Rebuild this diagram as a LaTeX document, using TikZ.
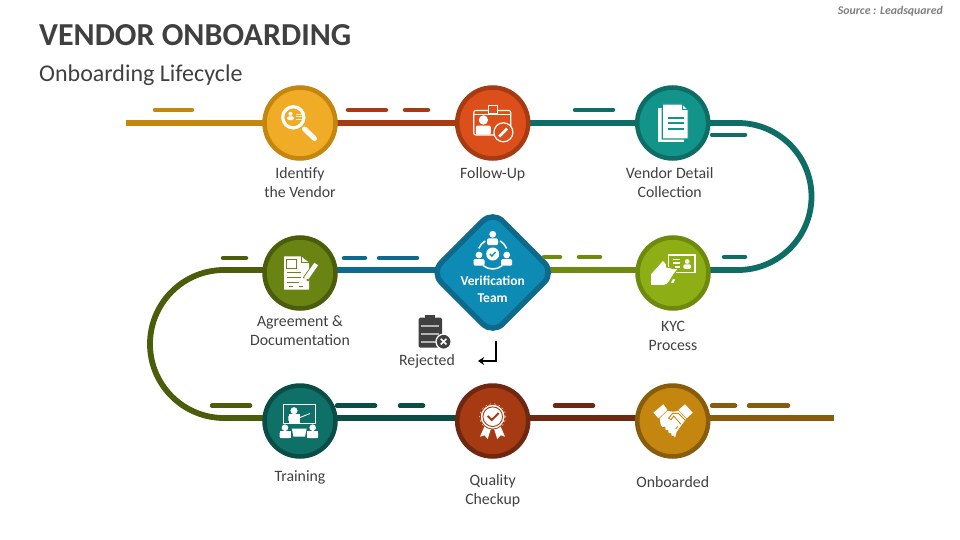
\documentclass[tikz,border=0pt]{standalone}
\usepackage{fontspec}
\setmainfont{Carlito}
\usepackage{tikz}
\usetikzlibrary{positioning, arrows.meta, shapes.geometric, backgrounds}
\usepackage{xcolor}
\definecolor{textgray}{HTML}{404040}
\definecolor{sourcegray}{HTML}{7F7F7F}
\definecolor{goldfill}{HTML}{F0AB27}
\definecolor{goldring}{HTML}{C4860F}
\definecolor{redfill}{HTML}{DC4F1A}
\definecolor{redring}{HTML}{A63A12}
\definecolor{tealfill}{HTML}{12948A}
\definecolor{tealring}{HTML}{0E6E66}
\definecolor{limefill}{HTML}{8DAE14}
\definecolor{limering}{HTML}{6E8A0C}
\definecolor{bluefill}{HTML}{0E8BB5}
\definecolor{bluering}{HTML}{0E6A8C}
\definecolor{olivefill}{HTML}{6A8414}
\definecolor{olivering}{HTML}{4B5D0A}
\definecolor{pinefill}{HTML}{0F7068}
\definecolor{pinering}{HTML}{0A4D45}
\definecolor{rustfill}{HTML}{A63A12}
\definecolor{rustring}{HTML}{6E2710}
\definecolor{ochrefill}{HTML}{C4860F}
\definecolor{ochrering}{HTML}{875C0A}

% head and shoulders of a person: x, y, half width of the body
\newcommand{\personglyph}[3]{%
  \fill ({#1},{#2}) circle[radius={0.62*#3 pt}];
  \fill[rounded corners=1.3pt] ({#1-#3},{#2+1.95*#3}) -- ({#1-#3},{#2+0.75*#3})
    -- ({#1+#3},{#2+0.75*#3}) -- ({#1+#3},{#2+1.95*#3}) -- cycle;
}

\begin{document}
\begin{tikzpicture}[
    x=1pt, y=-1pt,
    station/.style={circle, line width=4.5pt, minimum size=71pt, inner sep=0pt},
    rail/.style={line width=5.8pt},
    tick/.style={line width=4.5pt, line cap=round},
    lbl/.style={font=\fontsize{15.8}{19}\selectfont, text=textgray, align=center, inner sep=0pt}
]
\useasboundingbox (0,0) rectangle (960,540);

% Titles
\node[font=\fontsize{32}{36}\selectfont\bfseries, text=textgray, anchor=west, inner sep=0pt] (title) at (39,35.5) {VENDOR ONBOARDING};
\node[font=\fontsize{24}{28}\selectfont, text=textgray, anchor=west, inner sep=0pt] (subtitle) at (39,75.5) {Onboarding Lifecycle};
\node[font=\fontsize{11.8}{14}\selectfont\bfseries\itshape, text=sourcegray, anchor=east, inner sep=0pt] (source) at (943,11) {Source : Leadsquared};

% Stations, row by row
\node[station, draw=goldring, fill=goldfill] (identify) at (300,123) {};
\node[station, draw=redring, fill=redfill] (followup) at (492.7,123) {};
\node[station, draw=tealring, fill=tealfill] (vendor) at (672.7,123) {};
\node[station, draw=olivering, fill=olivefill] (agreement) at (300,273) {};
\node[diamond, aspect=1, rounded corners=14pt, line width=5.5pt, minimum size=125pt, inner sep=0pt, draw=bluering, fill=bluefill] (verify) at (492.7,272.5) {};
\node[station, draw=limering, fill=limefill] (kyc) at (673,273) {};
\node[station, draw=pinering, fill=pinefill] (training) at (300,421) {};
\node[station, draw=rustring, fill=rustfill] (quality) at (492.7,421) {};
\node[station, draw=ochrering, fill=ochrefill] (onboarded) at (672.7,421) {};

% Labels
\node[lbl, below=6.5pt of identify] (identifylbl) {Identify\\the Vendor};
\node[lbl, below=6.5pt of followup] (followuplbl) {Follow-Up};
\node[lbl, below=6.5pt of vendor, xshift=-3pt] (vendorlbl) {Vendor Detail\\Collection};
\node[lbl, below=4.5pt of agreement] (agreementlbl) {Agreement \&\\Documentation};
\node[lbl, below=10pt of kyc] (kyclbl) {KYC\\Process};
\node[lbl, below=11.5pt of training] (traininglbl) {Training};
\node[lbl, below=15.5pt of quality] (qualitylbl) {Quality\\Checkup};
\node[lbl, below=17.5pt of onboarded] (onboardedlbl) {Onboarded};
\node[lbl] (rejected) at (427,361) {Rejected};
\node[lbl, font=\fontsize{13.5}{17}\selectfont\bfseries, text=white] (verifylbl) at (492.7,289) {Verification\\Team};

% Free ends of the line
\coordinate (startpt) at (126,123);
\coordinate (endpt) at (834,418);

% Line segments go behind the stations
\begin{pgfonlayer}{background}
\draw[rail, goldring] (startpt) -- (identify.center);
\draw[rail, redring] (identify.center) -- (followup.center);
\draw[rail, tealring] (followup.center) -- (vendor.center) -- (738,123)
    arc[start angle=90, end angle=-90, radius=73.5pt] -- ([yshift=3pt]kyc.center);
\draw[rail, limering] ([yshift=3pt]kyc.center) -- ([yshift=2.5pt]verify.center);
\draw[rail, bluering] ([yshift=2.5pt]verify.center) -- ([yshift=3pt]agreement.center);
\draw[rail, olivering] ([yshift=3pt]agreement.center) -- (224,270)
    arc[start angle=90, end angle=270, radius=74pt] -- ([yshift=3pt]training.center);
\draw[rail, pinering] ([yshift=3pt]training.center) -- ([yshift=3pt]quality.center);
\draw[rail, rustring] ([yshift=3pt]quality.center) -- ([yshift=3pt]onboarded.center);
\draw[rail, ochrering] ([yshift=3pt]onboarded.center) -- (endpt);
\end{pgfonlayer}

% Short dashes beside the line
\foreach \xa/\xb/\yy/\col in {
    155/192/110/goldring, 348/386/110/redring, 405/428/110/redring,
    575/613/110/tealring, 712/745/135/tealring, 724/745/257/tealring,
    544/560/257/limering, 579/600/257/limering, 344/365/258/bluering,
    379/417/258/bluering, 223/246/258/olivering, 212/250/405.7/olivering,
    337/375/405.7/pinering, 400/423/405.7/pinering, 555/593/405.7/rustring,
    712/735/405.7/ochrering, 749/788/405.7/ochrering}
  \draw[tick, \col] (\xa,\yy) -- (\xb,\yy);

% Rejected branch
\draw[line width=2.4pt, -{Stealth[length=6pt, width=8pt]}, shorten >=23pt] ([shift={(3.5,3)}]verify.south) |- (rejected.east);

% Icon: magnifier
\begin{scope}[shift={(identify.center)}, white]
\draw[line width=3.2pt] (-6.7,-5.7) circle[radius=10.6pt];
\draw[line width=5pt, line cap=round] (4.5,6) -- (14.5,15.5);
\personglyph{-9.5}{-9.2}{3.3}
\draw[line width=0.8pt, color=white!80!goldfill] (-4.5,-9) -- (1.5,-9) (-4.5,-6.5) -- (1.5,-6.5) (-4.5,-4) -- (1.5,-4);
\end{scope}

% Icon: badge with pencil
\begin{scope}[shift={(followup.center)}, white]
\draw[line width=1.1pt, rounded corners=2pt] (-19,-12.5) rectangle (18,12);
\draw[line width=1.1pt] (-19,-8.8) -- (18,-8.8);
\draw[line width=1.1pt, fill=redfill] (-4.3,-17.5) rectangle (4.5,-9);
\personglyph{-9.3}{-3}{7.5}
\filldraw[line width=1.2pt, fill=redfill] (10.7,9.3) circle[radius=9.5pt];
\draw[line width=2.6pt] (6.5,13.5) -- (14.5,5.5);
\end{scope}

% Icon: two pages
\begin{scope}[shift={(vendor.center)}]
\fill[white] (-14.3,-15) rectangle (11.7,19);
\filldraw[fill=white, draw=tealfill, line width=1.2pt] (-10.4,-19) -- (10,-19) -- (15.4,-13.7) -- (15.4,16) -- (-10.4,16) -- cycle;
\draw[tealfill, line width=0.9pt] (10,-19) -- (10,-13.7) -- (15.4,-13.7);
\draw[tealfill, line width=1.9pt] (-5,-5.3) -- (11.7,-5.3) (-5,0) -- (11.7,0) (-5,5.7) -- (11.7,5.7);
\end{scope}

% Icon: hand holding a card
\begin{scope}[shift={(kyc.center)}, white]
\draw[line width=1.2pt] (-4.5,-18) rectangle (22,-0.8);
\draw[line width=1.1pt] (-0.5,-13.5) -- (7,-13.5) (-0.5,-10) -- (7,-10) (1.5,-6) -- (7,-6);
\personglyph{14.2}{-11.5}{3.8}
\filldraw[line width=0.9pt, draw=limefill] (-22.5,1) -- (-10,-13) -- (-6.5,-9) -- (-6.5,-6) -- (0,-4.5) -- (5.5,-4.5)
    -- (1,1) -- (-2,6) -- (-5,10.5) -- (-9,12.5) -- (-22.5,12.5) -- cycle;
\fill (-2,9.5) -- (0,6) -- (2,6.5) -- (0.5,10) -- cycle;
\end{scope}

% Icon: team around a check mark
\begin{scope}[shift={([yshift=18.5pt]verify.center)}, white]
\draw[line width=1.5pt] (7.5,-13) arc[start angle=60, end angle=22, radius=15pt];
\draw[line width=1.5pt] (-7.5,-13) arc[start angle=120, end angle=158, radius=15pt];
\draw[line width=1.5pt] (-9.6,11.5) arc[start angle=230, end angle=310, radius=15pt];
\personglyph{0}{-19.7}{5.5}
\personglyph{-13.7}{1}{5.5}
\personglyph{14}{1}{5.5}
\fill (0,0) circle[radius=6.5pt];
\draw[bluefill, line width=1.3pt] (-2.8,0) -- (-0.8,2) -- (3,-2);
\end{scope}

% Icon: clipboard with a cross
\begin{scope}[shift={(rejected.center)}]
\fill[textgray, rounded corners=1.5pt] (-8.4,-43.3) rectangle (15,-13.3);
\fill[textgray] (-1.7,-46) rectangle (8.3,-42);
\draw[line width=1.3pt, color=white!60!textgray] (-6,-35) -- (11.5,-35) (-6,-27) -- (11.5,-27) (-6,-19) -- (9,-19);
\filldraw[fill=textgray, draw=white, line width=1.3pt] (16.6,-19.3) circle[radius=7.6pt];
\draw[white, line width=1.6pt] (13.8,-22.1) -- (19.4,-16.5) (13.8,-16.5) -- (19.4,-22.1);
\end{scope}

% Icon: contract and pen
\begin{scope}[shift={(agreement.center)}]
\fill[white] (-16,-16.7) -- (1,-16.7) -- (9,-10.5) -- (9,16.7) -- (-16,16.7) -- cycle;
\draw[olivefill, line width=0.8pt] (1,-16.7) -- (1,-10.5) -- (9,-10.5);
\draw[olivefill, line width=1pt] (-13.3,-14) rectangle (-3.5,-5);
\draw[olivefill, line width=0.9pt] (-13.3,-1) -- (1,-1) (-13.3,4) -- (1,4) (-13.3,9) -- (-1,9);
\draw[olivefill, line width=0.9pt, dash pattern=on 4pt off 6pt] (-11,13.5) -- (6,13.5);
\draw[olivefill, line width=6.5pt] (16.7,-9.3) -- (5.5,6.5);
\draw[white, line width=4.5pt] (16.2,-9) -- (6.5,5);
\fill[white] (4,8) -- (4.5,3.5) -- (8,5.8) -- cycle;
\end{scope}

% Icon: presenter and audience
\begin{scope}[shift={(training.center)}, white]
\draw[line width=1.1pt] (-16.7,-16.7) rectangle (15.7,2.3);
\personglyph{-6}{-10.3}{5.7}
\fill (-11.5,-7) rectangle (0,2.3);
\draw[line width=0.9pt] (0,-3.5) -- (10,-7.5);
\personglyph{-15}{6.7}{5.3}
\personglyph{12.7}{6.7}{5.3}
\fill (-20,10) rectangle (-9.3,16.7);
\fill (7.3,10) rectangle (18.3,16.7);
\fill (-8.3,7.5) -- (6.7,7.5) -- (5,15.7) -- (-6.5,15.7) -- cycle;
\end{scope}

% Icon: seal with ribbons
\begin{scope}[shift={(quality.center)}, white]
\fill (-7.7,4) -- (-12.7,15.7) -- (-8.3,14.3) -- (-5,18) -- (-1.7,7.3) -- cycle;
\fill (7.3,4) -- (12.3,15.7) -- (8,14.3) -- (4.5,18) -- (1.2,7.3) -- cycle;
\foreach \ang in {0,20,...,340}
  \fill (0,-4.3) ++(\ang:12) circle[radius=1.5pt];
\filldraw[draw=rustfill, line width=0.8pt] (0,-4.3) circle[radius=12.4pt];
\draw[rustfill, line width=0.9pt] (0,-4.3) circle[radius=9.8pt];
\draw[rustfill, line width=2pt] (-5,-5) -- (-1,-1) -- (6,-8);
\end{scope}

% Icon: handshake
\begin{scope}[shift={(onboarded.center)}, white]
\fill (-19.3,-8.3) -- (-9.3,-16.7) -- (-5.3,-11) -- (-14.3,-2.7) -- cycle;
\fill (5.7,-11) -- (12.3,-16.7) -- (20,-8.3) -- (14,-2.7) -- cycle;
\fill (-5.3,-10) -- (0.7,-9.3) -- (5.7,-10) -- (13.3,-2) -- (4,10.7) -- (2.3,16.7) -- (1,14.5) -- (-1,15) -- (-1.5,12)
    -- (-4,12) -- (-4.5,9) -- (-7,9) -- (-7.5,5.5) -- (-10,6) -- (-12,4) -- (-13,-2.7) -- cycle;
\draw[ochrefill, line width=0.9pt] (-4.3,-2.7) -- (0,-7.7) -- (5.7,-7.7) -- (12.3,-1);
\draw[ochrefill, line width=0.9pt] (-4.3,-2.7) -- (-1.5,-1.5) -- (1,-5) -- (8,3) (3,8) -- (5,5.5);
\end{scope}

\end{tikzpicture}
\end{document}
